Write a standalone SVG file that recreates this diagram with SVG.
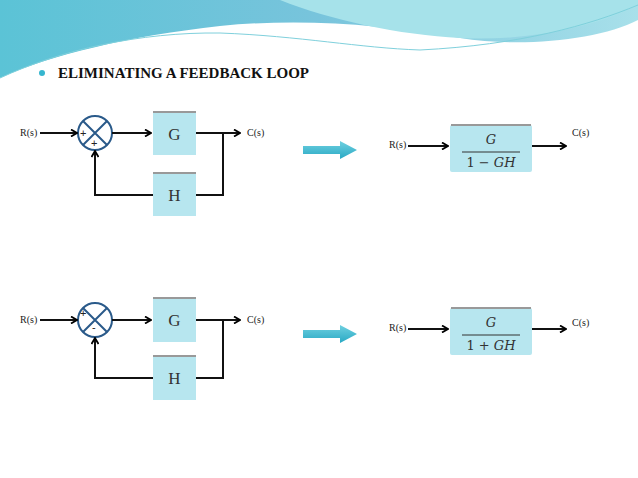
<svg xmlns="http://www.w3.org/2000/svg" width="638" height="478" viewBox="0 0 638 478">
<defs>
<marker id="ah" markerWidth="8" markerHeight="8" refX="7" refY="4" orient="auto" markerUnits="userSpaceOnUse"><path d="M1,0.5 L7,4 L1,7.5" fill="none" stroke="#000" stroke-width="1.8"/></marker>
<linearGradient id="sky" x1="0" y1="0" x2="1" y2="0"><stop offset="0" stop-color="#5bc3d6"/><stop offset="0.5" stop-color="#78c4dc"/><stop offset="1" stop-color="#a8e0ea"/></linearGradient>
<linearGradient id="fat" x1="0" y1="0" x2="0" y2="1"><stop offset="0" stop-color="#6fd0e0"/><stop offset="1" stop-color="#29a9c4"/></linearGradient>
</defs>
<style>
.t{font-family:"Liberation Serif",serif;font-size:10px;fill:#222}
.s{font-family:"Liberation Sans",sans-serif;font-size:11px;fill:#222}
.box{fill:#b7e6ef;stroke:none}
.top{stroke:#999;stroke-width:2}
.big{font-family:"Liberation Serif",serif;font-size:17px;fill:#333;text-anchor:middle}
.m{font-family:"DejaVu Serif",serif;font-size:13px;font-style:italic;fill:#333;text-anchor:middle}
.w{fill:none;stroke:#111;stroke-width:2}
.sum{fill:#fff;stroke:#2a5a8a;stroke-width:2}
</style>
<rect width="638" height="478" fill="#fff"/>
<path d="M0,0 H638 V20 C600,40 520,48 460,38 C380,24 300,18 220,26 C130,36 50,55 0,78 Z" fill="url(#sky)"/>
<path d="M280,0 C330,20 400,35 460,38 C530,42 600,25 638,5 V0 Z" fill="#a6e2ea"/>
<path d="M0,78 C60,50 140,32 220,33 C300,36 360,48 420,50" fill="none" stroke="#7fd0dc" stroke-width="1"/>
<path d="M420,50 C520,45 590,25 638,5" fill="none" stroke="#7fd0dc" stroke-width="1"/>
<circle cx="42" cy="73" r="3" fill="#36b6cf"/>
<text x="58" y="78" font-family="Liberation Serif,serif" font-size="15" font-weight="bold" fill="#111">ELIMINATING A FEEDBACK LOOP</text>

<g id="loop1">
<g id="r1"><text class="t" x="20" y="136">R(s)</text></g>
<g id="sum1"><circle class="sum" cx="95" cy="133" r="17"/><path d="M83,121 L107,145 M107,121 L83,145" stroke="#2a5a8a" stroke-width="2"/><text class="s" x="80" y="137">+</text><text class="s" x="91" y="147">+</text></g>
<g id="g1"><rect class="box" x="153" y="112" width="43" height="43"/><line class="top" x1="153" y1="112" x2="196" y2="112"/><text class="big" x="174.5" y="140">G</text></g>
<g id="h1"><rect class="box" x="153" y="173" width="43" height="43"/><line class="top" x1="153" y1="173" x2="196" y2="173"/><text class="big" x="174.5" y="201">H</text></g>
<g id="c1"><text class="t" x="247" y="136">C(s)</text></g>
</g>
<g id="loop2">
<g id="r2"><text class="t" x="20" y="323">R(s)</text></g>
<g id="sum2"><circle class="sum" cx="95" cy="320" r="17"/><path d="M83,308 L107,332 M107,308 L83,332" stroke="#2a5a8a" stroke-width="2"/><text class="s" x="80" y="317">+</text><text class="s" x="92" y="331">-</text></g>
<g id="g2"><rect class="box" x="153" y="298" width="43" height="44"/><line class="top" x1="153" y1="298" x2="196" y2="298"/><text class="big" x="174.5" y="326">G</text></g>
<g id="h2"><rect class="box" x="153" y="356" width="43" height="44"/><line class="top" x1="153" y1="356" x2="196" y2="356"/><text class="big" x="174.5" y="384">H</text></g>
<g id="c2"><text class="t" x="247" y="323">C(s)</text></g>
</g>
<g id="res1">
<text class="t" x="389" y="148">R(s)</text>
<rect class="box" x="450" y="125" width="82" height="47" rx="2"/><line class="top" x1="451" y1="125" x2="531" y2="125"/>
<text class="m" x="491" y="144">G</text><line x1="462" y1="152" x2="520" y2="152" stroke="#333"/><text class="m" x="491" y="167"><tspan font-style="normal">1 − </tspan>GH</text>
<text class="t" x="572" y="136">C(s)</text>
</g>
<g id="res2">
<text class="t" x="389" y="331">R(s)</text>
<rect class="box" x="450" y="308" width="82" height="47" rx="2"/><line class="top" x1="451" y1="308" x2="531" y2="308"/>
<text class="m" x="491" y="327">G</text><line x1="462" y1="335" x2="520" y2="335" stroke="#333"/><text class="m" x="491" y="350"><tspan font-style="normal">1 + </tspan>GH</text>
<text class="t" x="572" y="326">C(s)</text>
</g>
<g id="arrows">
<path d="M303,146 H340 V141 L357,150 L340,159 V154 H303 Z" fill="url(#fat)"/>
<path d="M303,330 H340 V325 L357,334 L340,343 V338 H303 Z" fill="url(#fat)"/>
</g>
<g id="connectors">
<path class="w" d="M40,133 H77" marker-end="url(#ah)"/>
<path class="w" d="M112,133 H151" marker-end="url(#ah)"/>
<path class="w" d="M196,133 H240" marker-end="url(#ah)"/>
<path class="w" d="M196,195 H223 V133"/>
<path class="w" d="M153,195 H95 V151" marker-end="url(#ah)"/>
<path class="w" d="M40,320 H77" marker-end="url(#ah)"/>
<path class="w" d="M112,320 H151" marker-end="url(#ah)"/>
<path class="w" d="M196,320 H240" marker-end="url(#ah)"/>
<path class="w" d="M196,378 H223 V320"/>
<path class="w" d="M153,378 H95 V338" marker-end="url(#ah)"/>
<path class="w" d="M408,146 H448" marker-end="url(#ah)"/>
<path class="w" d="M532,146 H566" marker-end="url(#ah)"/>
<path class="w" d="M408,329 H448" marker-end="url(#ah)"/>
<path class="w" d="M532,329 H566" marker-end="url(#ah)"/>
</g>
</svg>
